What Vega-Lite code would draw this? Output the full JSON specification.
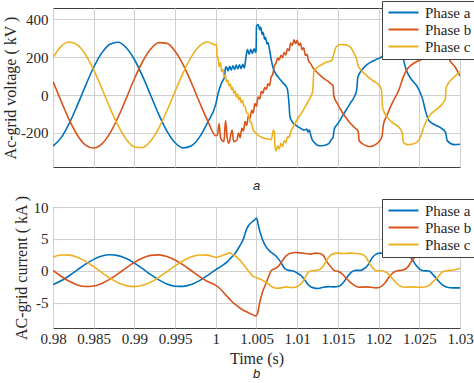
{
"$schema": "https://vega.github.io/schema/vega-lite/v6.json",
"background": "white",
"padding": {"left": 2, "top": 0, "right": 0, "bottom": 0},
"config": {
  "view": {"stroke": "#404040", "strokeWidth": 1},
  "axis": {"labelFont": "Liberation Serif", "labelFontSize": 15, "labelColor": "#262626", "titleFont": "Liberation Serif", "titleFontSize": 16, "titleFontWeight": "normal", "titleColor": "#262626", "gridColor": "#d0d0d0", "gridOpacity": 1, "domain": false, "tickSize": 0, "labelPadding": 5, "labelOverlap": false, "labelFlush": false},
  "legend": {"labelFont": "Liberation Serif", "labelFontSize": 15, "labelColor": "#262626", "symbolType": "M-3,0L3,0", "symbolSize": 100, "symbolStrokeWidth": 2, "symbolOffset": 10, "strokeColor": "#404040", "fillColor": "white", "padding": 4, "rowPadding": 1, "labelOffset": 14, "title": null},
  "concat": {"spacing": 1}
},
"datasets": {
"v": [
{"t":0.980,"s":"a","v":-270},{"t":0.981,"s":"a","v":-225},{"t":0.982,"s":"a","v":-149},{"t":0.983,"s":"a","v":-53},{"t":0.984,"s":"a","v":50},{"t":0.985,"s":"a","v":147},{"t":0.986,"s":"a","v":223},{"t":0.987,"s":"a","v":269},{"t":0.988,"s":"a","v":279},{"t":0.989,"s":"a","v":250},{"t":0.990,"s":"a","v":188},{"t":0.991,"s":"a","v":100},{"t":0.992,"s":"a","v":-1},{"t":0.993,"s":"a","v":-103},{"t":0.994,"s":"a","v":-190},{"t":0.995,"s":"a","v":-252},{"t":0.996,"s":"a","v":-279},{"t":0.997,"s":"a","v":-268},{"t":0.998,"s":"a","v":-222},{"t":0.999,"s":"a","v":-144},
{"t":1.0000,"s":"a","v":-48},{"t":1.0003,"s":"a","v":11},{"t":1.0007,"s":"a","v":64},{"t":1.0011,"s":"a","v":100},{"t":1.00115,"s":"a","v":135},{"t":1.0013,"s":"a","v":150},{"t":1.0015,"s":"a","v":128},{"t":1.0017,"s":"a","v":152},{"t":1.0019,"s":"a","v":132},{"t":1.0021,"s":"a","v":155},{"t":1.0023,"s":"a","v":135},{"t":1.0025,"s":"a","v":158},{"t":1.0027,"s":"a","v":138},{"t":1.0029,"s":"a","v":160},{"t":1.0031,"s":"a","v":140},{"t":1.0033,"s":"a","v":162},{"t":1.0035,"s":"a","v":143},{"t":1.0036,"s":"a","v":165},{"t":1.0037,"s":"a","v":200},{"t":1.0039,"s":"a","v":240},{"t":1.0041,"s":"a","v":215},{"t":1.0043,"s":"a","v":242},{"t":1.0045,"s":"a","v":220},{"t":1.0047,"s":"a","v":245},{"t":1.0049,"s":"a","v":225},{"t":1.00495,"s":"a","v":240},{"t":1.0050,"s":"a","v":365},{"t":1.0052,"s":"a","v":373},{"t":1.0054,"s":"a","v":345},{"t":1.0055,"s":"a","v":360},{"t":1.0057,"s":"a","v":320},{"t":1.0058,"s":"a","v":332},{"t":1.0060,"s":"a","v":295},{"t":1.0061,"s":"a","v":305},{"t":1.0063,"s":"a","v":270},{"t":1.0064,"s":"a","v":278},{"t":1.0066,"s":"a","v":240},{"t":1.0068,"s":"a","v":190},{"t":1.0070,"s":"a","v":150},{"t":1.0074,"s":"a","v":110},{"t":1.0078,"s":"a","v":88},{"t":1.0082,"s":"a","v":67},{"t":1.0086,"s":"a","v":48},{"t":1.0088,"s":"a","v":30},{"t":1.0090,"s":"a","v":-50},{"t":1.0091,"s":"a","v":-112},{"t":1.0093,"s":"a","v":-135},{"t":1.0095,"s":"a","v":-147},{"t":1.0098,"s":"a","v":-158},{"t":1.0100,"s":"a","v":-165},{"t":1.0104,"s":"a","v":-175},{"t":1.0108,"s":"a","v":-185},{"t":1.0112,"s":"a","v":-180},{"t":1.0113,"s":"a","v":-195},{"t":1.0115,"s":"a","v":-185},{"t":1.0116,"s":"a","v":-200},{"t":1.0118,"s":"a","v":-232},{"t":1.0122,"s":"a","v":-255},{"t":1.0127,"s":"a","v":-268},{"t":1.0133,"s":"a","v":-266},{"t":1.0139,"s":"a","v":-255},{"t":1.0142,"s":"a","v":-235},{"t":1.0144,"s":"a","v":-225},{"t":1.01455,"s":"a","v":-180},{"t":1.0150,"s":"a","v":-150},{"t":1.0155,"s":"a","v":-115},{"t":1.0160,"s":"a","v":-80},{"t":1.0165,"s":"a","v":-45},{"t":1.0170,"s":"a","v":-10},{"t":1.0173,"s":"a","v":25},{"t":1.01745,"s":"a","v":95},{"t":1.0180,"s":"a","v":135},{"t":1.0185,"s":"a","v":158},{"t":1.0190,"s":"a","v":173},{"t":1.0196,"s":"a","v":186},{"t":1.0202,"s":"a","v":198},{"t":1.0205,"s":"a","v":208},{"t":1.02065,"s":"a","v":255},{"t":1.0212,"s":"a","v":280},{"t":1.0218,"s":"a","v":290},{"t":1.0224,"s":"a","v":282},{"t":1.0227,"s":"a","v":250},{"t":1.0229,"s":"a","v":215},{"t":1.0234,"s":"a","v":132},{"t":1.0240,"s":"a","v":85},{"t":1.0248,"s":"a","v":41},{"t":1.0254,"s":"a","v":-20},{"t":1.0258,"s":"a","v":-90},{"t":1.0262,"s":"a","v":-136},{"t":1.0268,"s":"a","v":-154},{"t":1.0276,"s":"a","v":-172},{"t":1.0282,"s":"a","v":-195},{"t":1.02845,"s":"a","v":-242},{"t":1.0293,"s":"a","v":-262},{"t":1.0300,"s":"a","v":-260},
{"t":0.980,"s":"b","v":71},{"t":0.981,"s":"b","v":-32},{"t":0.982,"s":"b","v":-131},{"t":0.983,"s":"b","v":-212},{"t":0.984,"s":"b","v":-264},{"t":0.985,"s":"b","v":-280},{"t":0.986,"s":"b","v":-258},{"t":0.987,"s":"b","v":-201},{"t":0.988,"s":"b","v":-117},{"t":0.989,"s":"b","v":-17},{"t":0.990,"s":"b","v":86},{"t":0.991,"s":"b","v":176},{"t":0.992,"s":"b","v":243},{"t":0.993,"s":"b","v":277},{"t":0.994,"s":"b","v":273},{"t":0.995,"s":"b","v":232},{"t":0.996,"s":"b","v":160},{"t":0.997,"s":"b","v":65},{"t":0.998,"s":"b","v":-38},{"t":0.999,"s":"b","v":-136},
{"t":1.0000,"s":"b","v":-215},{"t":1.0002,"s":"b","v":-211},{"t":1.0004,"s":"b","v":-150},{"t":1.0006,"s":"b","v":-228},{"t":1.0010,"s":"b","v":-246},{"t":1.0012,"s":"b","v":-135},{"t":1.0014,"s":"b","v":-228},{"t":1.0016,"s":"b","v":-255},{"t":1.0020,"s":"b","v":-185},{"t":1.0022,"s":"b","v":-246},{"t":1.0026,"s":"b","v":-237},{"t":1.0028,"s":"b","v":-200},{"t":1.0030,"s":"b","v":-225},{"t":1.0032,"s":"b","v":-175},{"t":1.0034,"s":"b","v":-190},{"t":1.0036,"s":"b","v":-140},{"t":1.0038,"s":"b","v":-160},{"t":1.0040,"s":"b","v":-110},{"t":1.0042,"s":"b","v":-125},{"t":1.0044,"s":"b","v":-80},{"t":1.0046,"s":"b","v":-95},{"t":1.0048,"s":"b","v":-45},{"t":1.0050,"s":"b","v":-60},{"t":1.0052,"s":"b","v":-10},{"t":1.0054,"s":"b","v":-20},{"t":1.0056,"s":"b","v":20},{"t":1.0058,"s":"b","v":10},{"t":1.0060,"s":"b","v":40},{"t":1.0062,"s":"b","v":30},{"t":1.0064,"s":"b","v":60},{"t":1.0066,"s":"b","v":50},{"t":1.0068,"s":"b","v":95},{"t":1.0070,"s":"b","v":110},{"t":1.0072,"s":"b","v":155},{"t":1.0074,"s":"b","v":170},{"t":1.0076,"s":"b","v":195},{"t":1.0078,"s":"b","v":185},{"t":1.0080,"s":"b","v":210},{"t":1.0082,"s":"b","v":198},{"t":1.0084,"s":"b","v":225},{"t":1.0086,"s":"b","v":212},{"t":1.0088,"s":"b","v":245},{"t":1.0090,"s":"b","v":235},{"t":1.0092,"s":"b","v":275},{"t":1.0094,"s":"b","v":262},{"t":1.0096,"s":"b","v":292},{"t":1.0098,"s":"b","v":272},{"t":1.0100,"s":"b","v":290},{"t":1.0102,"s":"b","v":262},{"t":1.0104,"s":"b","v":275},{"t":1.0106,"s":"b","v":240},{"t":1.0108,"s":"b","v":250},{"t":1.0110,"s":"b","v":210},{"t":1.0112,"s":"b","v":215},{"t":1.0114,"s":"b","v":180},{"t":1.0116,"s":"b","v":170},{"t":1.0120,"s":"b","v":140},{"t":1.0124,"s":"b","v":122},{"t":1.0128,"s":"b","v":105},{"t":1.0132,"s":"b","v":90},{"t":1.0138,"s":"b","v":72},{"t":1.0142,"s":"b","v":58},{"t":1.0144,"s":"b","v":50},{"t":1.0145,"s":"b","v":-5},{"t":1.0150,"s":"b","v":-50},{"t":1.0155,"s":"b","v":-88},{"t":1.0160,"s":"b","v":-120},{"t":1.0165,"s":"b","v":-148},{"t":1.0170,"s":"b","v":-170},{"t":1.0175,"s":"b","v":-192},{"t":1.0176,"s":"b","v":-240},{"t":1.0182,"s":"b","v":-262},{"t":1.0188,"s":"b","v":-272},{"t":1.0194,"s":"b","v":-266},{"t":1.0200,"s":"b","v":-248},{"t":1.0204,"s":"b","v":-222},{"t":1.0206,"s":"b","v":-155},{"t":1.0210,"s":"b","v":-110},{"t":1.0217,"s":"b","v":-40},{"t":1.0225,"s":"b","v":28},{"t":1.0230,"s":"b","v":92},{"t":1.0234,"s":"b","v":129},{"t":1.0240,"s":"b","v":158},{"t":1.0246,"s":"b","v":175},{"t":1.0254,"s":"b","v":190},{"t":1.0262,"s":"b","v":205},{"t":1.0268,"s":"b","v":240},{"t":1.0274,"s":"b","v":272},{"t":1.0280,"s":"b","v":270},{"t":1.0283,"s":"b","v":232},{"t":1.0288,"s":"b","v":180},{"t":1.0294,"s":"b","v":148},{"t":1.0300,"s":"b","v":100},
{"t":0.980,"s":"c","v":199},{"t":0.981,"s":"c","v":257},{"t":0.982,"s":"c","v":280},{"t":0.983,"s":"c","v":265},{"t":0.984,"s":"c","v":213},{"t":0.985,"s":"c","v":133},{"t":0.986,"s":"c","v":35},{"t":0.987,"s":"c","v":-68},{"t":0.988,"s":"c","v":-162},{"t":0.989,"s":"c","v":-234},{"t":0.990,"s":"c","v":-274},{"t":0.991,"s":"c","v":-277},{"t":0.992,"s":"c","v":-242},{"t":0.993,"s":"c","v":-174},{"t":0.994,"s":"c","v":-83},{"t":0.995,"s":"c","v":20},{"t":0.996,"s":"c","v":119},{"t":0.997,"s":"c","v":203},{"t":0.998,"s":"c","v":259},{"t":0.999,"s":"c","v":280},
{"t":1.0000,"s":"c","v":265},{"t":1.0001,"s":"c","v":268},{"t":1.00015,"s":"c","v":205},{"t":1.0003,"s":"c","v":195},{"t":1.0004,"s":"c","v":150},{"t":1.0006,"s":"c","v":170},{"t":1.0007,"s":"c","v":125},{"t":1.0009,"s":"c","v":135},{"t":1.0010,"s":"c","v":95},{"t":1.0012,"s":"c","v":105},{"t":1.0013,"s":"c","v":70},{"t":1.0015,"s":"c","v":78},{"t":1.0016,"s":"c","v":50},{"t":1.0018,"s":"c","v":58},{"t":1.0019,"s":"c","v":30},{"t":1.0021,"s":"c","v":40},{"t":1.0022,"s":"c","v":10},{"t":1.0024,"s":"c","v":22},{"t":1.0025,"s":"c","v":-10},{"t":1.0027,"s":"c","v":5},{"t":1.0028,"s":"c","v":-25},{"t":1.0030,"s":"c","v":-12},{"t":1.0031,"s":"c","v":-40},{"t":1.0033,"s":"c","v":-28},{"t":1.0034,"s":"c","v":-55},{"t":1.0036,"s":"c","v":-60},{"t":1.0038,"s":"c","v":-95},{"t":1.0040,"s":"c","v":-100},{"t":1.0042,"s":"c","v":-140},{"t":1.0044,"s":"c","v":-150},{"t":1.0046,"s":"c","v":-185},{"t":1.0048,"s":"c","v":-195},{"t":1.0050,"s":"c","v":-205},{"t":1.0054,"s":"c","v":-218},{"t":1.0059,"s":"c","v":-227},{"t":1.0064,"s":"c","v":-232},{"t":1.0068,"s":"c","v":-235},{"t":1.0071,"s":"c","v":-185},{"t":1.0072,"s":"c","v":-200},{"t":1.00725,"s":"c","v":-262},{"t":1.0074,"s":"c","v":-295},{"t":1.0076,"s":"c","v":-268},{"t":1.0078,"s":"c","v":-285},{"t":1.0080,"s":"c","v":-255},{"t":1.0082,"s":"c","v":-272},{"t":1.0084,"s":"c","v":-240},{"t":1.0086,"s":"c","v":-252},{"t":1.0088,"s":"c","v":-220},{"t":1.0090,"s":"c","v":-225},{"t":1.0092,"s":"c","v":-195},{"t":1.0096,"s":"c","v":-160},{"t":1.0100,"s":"c","v":-129},{"t":1.0106,"s":"c","v":-90},{"t":1.0112,"s":"c","v":-45},{"t":1.0117,"s":"c","v":-5},{"t":1.0119,"s":"c","v":20},{"t":1.01205,"s":"c","v":125},{"t":1.0124,"s":"c","v":143},{"t":1.0130,"s":"c","v":160},{"t":1.0136,"s":"c","v":175},{"t":1.0142,"s":"c","v":180},{"t":1.01455,"s":"c","v":225},{"t":1.0148,"s":"c","v":255},{"t":1.0153,"s":"c","v":267},{"t":1.0160,"s":"c","v":265},{"t":1.0166,"s":"c","v":250},{"t":1.0170,"s":"c","v":220},{"t":1.0173,"s":"c","v":190},{"t":1.0175,"s":"c","v":155},{"t":1.0178,"s":"c","v":134},{"t":1.0184,"s":"c","v":108},{"t":1.0190,"s":"c","v":85},{"t":1.0196,"s":"c","v":68},{"t":1.0200,"s":"c","v":55},{"t":1.02035,"s":"c","v":30},{"t":1.0205,"s":"c","v":-70},{"t":1.0211,"s":"c","v":-119},{"t":1.0217,"s":"c","v":-145},{"t":1.0223,"s":"c","v":-163},{"t":1.0229,"s":"c","v":-198},{"t":1.02305,"s":"c","v":-250},{"t":1.0236,"s":"c","v":-262},{"t":1.0242,"s":"c","v":-258},{"t":1.0248,"s":"c","v":-245},{"t":1.0252,"s":"c","v":-216},{"t":1.0256,"s":"c","v":-163},{"t":1.0260,"s":"c","v":-127},{"t":1.0264,"s":"c","v":-101},{"t":1.0270,"s":"c","v":-80},{"t":1.0276,"s":"c","v":-57},{"t":1.0282,"s":"c","v":-20},{"t":1.0283,"s":"c","v":40},{"t":1.0288,"s":"c","v":75},{"t":1.0294,"s":"c","v":100},{"t":1.0300,"s":"c","v":125}
],
"i": [
{"t":0.980,"s":"a","v":-2.18},{"t":0.981,"s":"a","v":-1.59},{"t":0.982,"s":"a","v":-0.79},{"t":0.983,"s":"a","v":0.13},{"t":0.984,"s":"a","v":1.02},{"t":0.985,"s":"a","v":1.78},{"t":0.986,"s":"a","v":2.30},{"t":0.987,"s":"a","v":2.50},{"t":0.988,"s":"a","v":2.36},{"t":0.989,"s":"a","v":1.91},{"t":0.990,"s":"a","v":1.19},{"t":0.991,"s":"a","v":0.31},{"t":0.992,"s":"a","v":-0.61},{"t":0.993,"s":"a","v":-1.45},{"t":0.994,"s":"a","v":-2.09},{"t":0.995,"s":"a","v":-2.44},{"t":0.996,"s":"a","v":-2.47},{"t":0.997,"s":"a","v":-2.16},{"t":0.998,"s":"a","v":-1.56},{"t":0.999,"s":"a","v":-0.74},
{"t":1.0000,"s":"a","v":0.17},{"t":1.0005,"s":"a","v":0.55},{"t":1.0010,"s":"a","v":1.0},{"t":1.0015,"s":"a","v":1.5},{"t":1.0018,"s":"a","v":1.95},{"t":1.0023,"s":"a","v":2.6},{"t":1.0029,"s":"a","v":3.8},{"t":1.0034,"s":"a","v":5.0},{"t":1.0038,"s":"a","v":6.6},{"t":1.0041,"s":"a","v":7.2},{"t":1.0044,"s":"a","v":7.6},{"t":1.0047,"s":"a","v":7.9},{"t":1.0050,"s":"a","v":8.25},{"t":1.0053,"s":"a","v":6.7},{"t":1.0057,"s":"a","v":5.0},{"t":1.0061,"s":"a","v":3.9},{"t":1.0067,"s":"a","v":3.0},{"t":1.0072,"s":"a","v":2.5},{"t":1.0076,"s":"a","v":2.0},{"t":1.0080,"s":"a","v":1.3},{"t":1.0085,"s":"a","v":0.3},{"t":1.0090,"s":"a","v":0.05},{"t":1.0096,"s":"a","v":-0.1},{"t":1.0101,"s":"a","v":-0.45},{"t":1.0105,"s":"a","v":-0.8},{"t":1.0110,"s":"a","v":-1.6},{"t":1.0115,"s":"a","v":-2.4},{"t":1.0120,"s":"a","v":-2.7},{"t":1.0126,"s":"a","v":-2.8},{"t":1.0132,"s":"a","v":-2.6},{"t":1.0138,"s":"a","v":-2.5},{"t":1.0145,"s":"a","v":-2.55},{"t":1.0152,"s":"a","v":-2.4},{"t":1.0157,"s":"a","v":-1.8},{"t":1.0162,"s":"a","v":-0.9},{"t":1.0167,"s":"a","v":-0.2},{"t":1.0172,"s":"a","v":0.05},{"t":1.0178,"s":"a","v":0.05},{"t":1.0182,"s":"a","v":0.3},{"t":1.0187,"s":"a","v":0.9},{"t":1.0192,"s":"a","v":2.0},{"t":1.0197,"s":"a","v":2.6},{"t":1.0202,"s":"a","v":2.75},{"t":1.0209,"s":"a","v":2.7},{"t":1.0216,"s":"a","v":2.5},{"t":1.0222,"s":"a","v":2.65},{"t":1.0230,"s":"a","v":2.65},{"t":1.0236,"s":"a","v":2.4},{"t":1.0240,"s":"a","v":2.0},{"t":1.0245,"s":"a","v":1.0},{"t":1.0250,"s":"a","v":0.3},{"t":1.0255,"s":"a","v":0.0},{"t":1.0262,"s":"a","v":-0.05},{"t":1.0266,"s":"a","v":-0.5},{"t":1.0272,"s":"a","v":-1.4},{"t":1.0278,"s":"a","v":-2.2},{"t":1.0284,"s":"a","v":-2.6},{"t":1.0292,"s":"a","v":-2.7},{"t":1.0300,"s":"a","v":-2.7},
{"t":0.980,"s":"b","v":0.03},{"t":0.981,"s":"b","v":-0.87},{"t":0.982,"s":"b","v":-1.66},{"t":0.983,"s":"b","v":-2.23},{"t":0.984,"s":"b","v":-2.49},{"t":0.985,"s":"b","v":-2.41},{"t":0.986,"s":"b","v":-2.01},{"t":0.987,"s":"b","v":-1.33},{"t":0.988,"s":"b","v":-0.47},{"t":0.989,"s":"b","v":0.45},{"t":0.990,"s":"b","v":1.31},{"t":0.991,"s":"b","v":1.99},{"t":0.992,"s":"b","v":2.40},{"t":0.993,"s":"b","v":2.49},{"t":0.994,"s":"b","v":2.24},{"t":0.995,"s":"b","v":1.68},{"t":0.996,"s":"b","v":0.89},{"t":0.997,"s":"b","v":-0.01},{"t":0.998,"s":"b","v":-0.92},{"t":0.999,"s":"b","v":-1.70},
{"t":1.0000,"s":"b","v":-2.3},{"t":1.0005,"s":"b","v":-2.8},{"t":1.0010,"s":"b","v":-3.5},{"t":1.0014,"s":"b","v":-4.05},{"t":1.0018,"s":"b","v":-4.6},{"t":1.0022,"s":"b","v":-5.1},{"t":1.0026,"s":"b","v":-5.5},{"t":1.0030,"s":"b","v":-5.9},{"t":1.0035,"s":"b","v":-6.3},{"t":1.0040,"s":"b","v":-6.6},{"t":1.0045,"s":"b","v":-6.9},{"t":1.0049,"s":"b","v":-7.1},{"t":1.0051,"s":"b","v":-6.8},{"t":1.0054,"s":"b","v":-5.0},{"t":1.0057,"s":"b","v":-3.5},{"t":1.0061,"s":"b","v":-2.2},{"t":1.0065,"s":"b","v":-0.9},{"t":1.0068,"s":"b","v":0.0},{"t":1.0072,"s":"b","v":0.3},{"t":1.0076,"s":"b","v":0.6},{"t":1.0080,"s":"b","v":1.2},{"t":1.0083,"s":"b","v":1.8},{"t":1.0087,"s":"b","v":2.4},{"t":1.0092,"s":"b","v":2.75},{"t":1.0098,"s":"b","v":2.85},{"t":1.0104,"s":"b","v":2.8},{"t":1.0110,"s":"b","v":2.7},{"t":1.0116,"s":"b","v":2.6},{"t":1.0122,"s":"b","v":2.75},{"t":1.0128,"s":"b","v":2.7},{"t":1.0132,"s":"b","v":2.4},{"t":1.0137,"s":"b","v":1.3},{"t":1.0142,"s":"b","v":0.5},{"t":1.0146,"s":"b","v":0.0},{"t":1.0150,"s":"b","v":-0.1},{"t":1.0156,"s":"b","v":-0.6},{"t":1.0160,"s":"b","v":-1.2},{"t":1.0165,"s":"b","v":-1.8},{"t":1.0170,"s":"b","v":-2.3},{"t":1.0176,"s":"b","v":-2.6},{"t":1.0184,"s":"b","v":-2.55},{"t":1.0190,"s":"b","v":-2.6},{"t":1.0197,"s":"b","v":-2.7},{"t":1.0203,"s":"b","v":-2.5},{"t":1.0208,"s":"b","v":-1.9},{"t":1.0213,"s":"b","v":-1.0},{"t":1.0218,"s":"b","v":-0.3},{"t":1.0223,"s":"b","v":0.0},{"t":1.0230,"s":"b","v":0.1},{"t":1.0236,"s":"b","v":0.6},{"t":1.0240,"s":"b","v":1.4},{"t":1.0245,"s":"b","v":2.2},{"t":1.0252,"s":"b","v":2.65},{"t":1.0260,"s":"b","v":2.7},{"t":1.0268,"s":"b","v":2.75},{"t":1.0275,"s":"b","v":2.7},{"t":1.0283,"s":"b","v":2.5},{"t":1.0290,"s":"b","v":2.6},{"t":1.0300,"s":"b","v":2.5},
{"t":0.980,"s":"c","v":2.15},{"t":0.981,"s":"c","v":2.47},{"t":0.982,"s":"c","v":2.45},{"t":0.983,"s":"c","v":2.10},{"t":0.984,"s":"c","v":1.46},{"t":0.985,"s":"c","v":0.63},{"t":0.986,"s":"c","v":-0.29},{"t":0.987,"s":"c","v":-1.17},{"t":0.988,"s":"c","v":-1.89},{"t":0.989,"s":"c","v":-2.35},{"t":0.990,"s":"c","v":-2.50},{"t":0.991,"s":"c","v":-2.30},{"t":0.992,"s":"c","v":-1.80},{"t":0.993,"s":"c","v":-1.04},{"t":0.994,"s":"c","v":-0.15},{"t":0.995,"s":"c","v":0.76},{"t":0.996,"s":"c","v":1.57},{"t":0.997,"s":"c","v":2.17},{"t":0.998,"s":"c","v":2.47},{"t":0.999,"s":"c","v":2.44},
{"t":1.0000,"s":"c","v":2.1},{"t":1.0004,"s":"c","v":2.2},{"t":1.0008,"s":"c","v":2.4},{"t":1.0013,"s":"c","v":2.6},{"t":1.0017,"s":"c","v":2.8},{"t":1.0020,"s":"c","v":2.6},{"t":1.0025,"s":"c","v":2.2},{"t":1.0030,"s":"c","v":1.6},{"t":1.0035,"s":"c","v":0.8},{"t":1.0040,"s":"c","v":0.0},{"t":1.0045,"s":"c","v":-0.8},{"t":1.0050,"s":"c","v":-1.1},{"t":1.0055,"s":"c","v":-1.35},{"t":1.0060,"s":"c","v":-1.7},{"t":1.0065,"s":"c","v":-2.1},{"t":1.0070,"s":"c","v":-2.6},{"t":1.0075,"s":"c","v":-2.75},{"t":1.0080,"s":"c","v":-2.7},{"t":1.0086,"s":"c","v":-2.55},{"t":1.0092,"s":"c","v":-2.65},{"t":1.0098,"s":"c","v":-2.6},{"t":1.0102,"s":"c","v":-2.3},{"t":1.0106,"s":"c","v":-1.9},{"t":1.0110,"s":"c","v":-1.0},{"t":1.0114,"s":"c","v":-0.2},{"t":1.0118,"s":"c","v":0.0},{"t":1.0124,"s":"c","v":0.05},{"t":1.0128,"s":"c","v":0.2},{"t":1.0133,"s":"c","v":0.9},{"t":1.0138,"s":"c","v":2.0},{"t":1.0143,"s":"c","v":2.6},{"t":1.0150,"s":"c","v":2.75},{"t":1.0158,"s":"c","v":2.7},{"t":1.0166,"s":"c","v":2.75},{"t":1.0174,"s":"c","v":2.7},{"t":1.0180,"s":"c","v":2.55},{"t":1.0184,"s":"c","v":2.2},{"t":1.0188,"s":"c","v":1.3},{"t":1.0193,"s":"c","v":0.4},{"t":1.0197,"s":"c","v":0.0},{"t":1.0204,"s":"c","v":0.0},{"t":1.0210,"s":"c","v":-0.3},{"t":1.0215,"s":"c","v":-0.9},{"t":1.0220,"s":"c","v":-1.7},{"t":1.0225,"s":"c","v":-2.3},{"t":1.0232,"s":"c","v":-2.6},{"t":1.0240,"s":"c","v":-2.55},{"t":1.0248,"s":"c","v":-2.6},{"t":1.0256,"s":"c","v":-2.55},{"t":1.0262,"s":"c","v":-2.3},{"t":1.0268,"s":"c","v":-1.6},{"t":1.0273,"s":"c","v":-1.0},{"t":1.0278,"s":"c","v":-0.2},{"t":1.0284,"s":"c","v":0.0},{"t":1.0292,"s":"c","v":0.1},{"t":1.0300,"s":"c","v":0.4}
]
},
"vconcat": [
{
  "width": 407, "height": 159,
  "data": {"name": "v"},
  "title": {"text": "a", "orient": "bottom", "font": "Liberation Sans", "fontStyle": "italic", "fontSize": 13, "fontWeight": "normal", "color": "#262626", "offset": 12},
  "mark": {"type": "line", "strokeWidth": 1.6, "interpolate": "monotone", "clip": true},
  "encoding": {
    "x": {"field": "t", "type": "quantitative", "scale": {"domain": [0.98, 1.03], "nice": false, "zero": false},
          "axis": {"values": [0.98,0.985,0.99,0.995,1,1.005,1.01,1.015,1.02,1.025,1.03], "labels": false, "title": null}},
    "y": {"field": "v", "type": "quantitative", "scale": {"domain": [-380, 460], "nice": false},
          "axis": {"values": [-200,0,200,400], "title": "Ac-grid voltage ( kV )", "labelExpr": "'' + datum.value", "titlePadding": 2}},
    "color": {"field": "s", "type": "nominal", "scale": {"domain": ["a","b","c"], "range": ["#0072BD","#D95319","#EDB120"]},
              "legend": {"orient": "none", "legendX": 329, "legendY": -7, "labelExpr": "'Phase ' + datum.label"}}
  }
},
{
  "width": 407, "height": 121,
  "data": {"name": "i"},
  "title": {"text": "b", "orient": "bottom", "font": "Liberation Sans", "fontStyle": "italic", "fontSize": 13, "fontWeight": "normal", "color": "#262626", "offset": 2},
  "mark": {"type": "line", "strokeWidth": 1.6, "interpolate": "monotone", "clip": true},
  "encoding": {
    "x": {"field": "t", "type": "quantitative", "scale": {"domain": [0.98, 1.03], "nice": false, "zero": false},
          "axis": {"values": [0.98,0.985,0.99,0.995,1,1.005,1.01,1.015,1.02,1.025,1.03], "labelExpr": "'' + datum.value", "title": "Time (s)", "titlePadding": 4, "labelPadding": 3}},
    "y": {"field": "v", "type": "quantitative", "scale": {"domain": [-9, 10], "nice": false},
          "axis": {"values": [-5,0,5,10], "title": "AC-grid current ( kA )", "labelExpr": "'' + datum.value", "titlePadding": 4}},
    "color": {"field": "s", "type": "nominal", "scale": {"domain": ["a","b","c"], "range": ["#0072BD","#D95319","#EDB120"]},
              "legend": {"orient": "none", "legendX": 329, "legendY": -8, "labelExpr": "'Phase ' + datum.label"}}
  }
}
],
"resolve": {"scale": {"color": "independent"}, "legend": {"color": "independent"}}
}
